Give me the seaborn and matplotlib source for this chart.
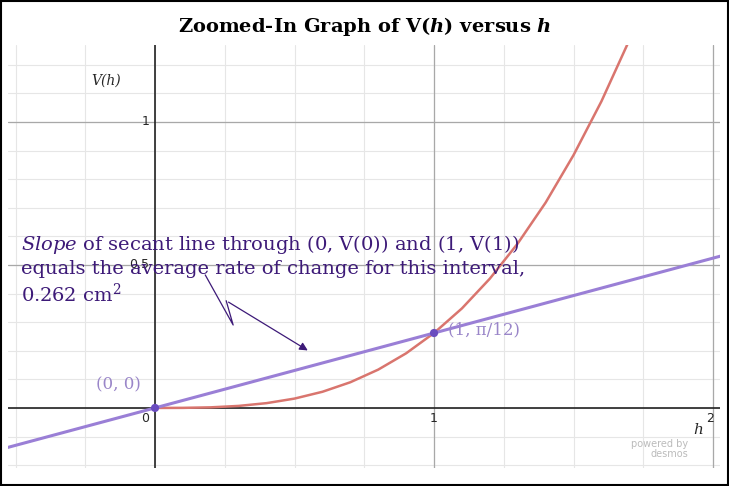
import numpy as np
import seaborn as sns
import matplotlib.pyplot as plt
from matplotlib.patches import Rectangle

# curve V(h) values
h_vals = [0, 0.1, 0.2, 0.3, 0.4, 0.5, 0.6, 0.7, 0.8, 0.9, 1.0, 1.1, 1.2, 1.3, 1.4, 1.5, 1.6, 1.7]
v_vals = [0, 0.0003, 0.0021, 0.0071, 0.0168, 0.0327, 0.0565, 0.0898, 0.134, 0.191,
          0.262, 0.348, 0.452, 0.575, 0.718, 0.884, 1.072, 1.286]
# secant line endpoints
sec_h = [-0.6, 2.1]
sec_v = [-0.157, 0.550]
pt_h = [0, 1]
pt_v = [0, 0.262]
pt_labels = ["(0, 0)", "(1, π/12)"]

sns.set_theme(style="white")
plt.rcParams['font.family'] = ['DejaVu Serif']
plt.rcParams['mathtext.fontset'] = 'dejavuserif'

fig = plt.figure(figsize=(7.29, 4.86), dpi=100)
ax = fig.add_axes([8/729, 18/486, 712/729, 423/486])
ax.set_xlim(-0.527, 2.025)
ax.set_ylim(-0.21, 1.269)

# grid
for x in np.arange(-0.5, 2.01, 0.25):
    ax.axvline(x, color='#e6e6e6', lw=0.8, zorder=0)
for y in np.arange(-0.2, 1.27, 0.1):
    ax.axhline(y, color='#e6e6e6', lw=0.8, zorder=0)
for x in [1, 2]:
    ax.axvline(x, color='#a8a8a8', lw=0.9, zorder=0)
for y in [0.5, 1]:
    ax.axhline(y, color='#a8a8a8', lw=0.9, zorder=0)
ax.axhline(0, color='#222222', lw=1.2, zorder=1)
ax.axvline(0, color='#222222', lw=1.2, zorder=1)
ax.set_xticks([]); ax.set_yticks([])
for s in ax.spines.values():
    s.set_visible(False)

ax.text(-0.02, -0.015, "0", ha='right', va='top', fontsize=9, family='DejaVu Sans')
ax.text(1, -0.015, "1", ha='center', va='top', fontsize=9, family='DejaVu Sans')
ax.text(1.99, -0.015, "2", ha='center', va='top', fontsize=9, family='DejaVu Sans')
ax.text(-0.02, 1.0, "1", ha='right', va='center', fontsize=9, family='DejaVu Sans')
ax.text(-0.02, 0.5, "0.5", ha='right', va='center', fontsize=9, family='DejaVu Sans')
ax.text(-0.23, 1.13, "V(h)", style='italic', fontsize=10)
ax.text(1.93, -0.09, "h", style='italic', fontsize=11)
ax.text(1.91, -0.11, "powered by\ndesmos", color='#bbbbbb', fontsize=7,
        ha='right', va='top', family='DejaVu Sans', linespacing=0.9)

sns.lineplot(x=h_vals, y=v_vals, ax=ax, color='#d9756e', lw=1.8, zorder=3)
sns.lineplot(x=sec_h, y=sec_v, ax=ax, color='#9a7fd6', lw=2.2, zorder=3)
sns.scatterplot(x=pt_h, y=pt_v, ax=ax, color='#6a4cbf', s=35, zorder=5, edgecolor='none')
ax.text(-0.21, 0.08, pt_labels[0], color='#9a86c9', fontsize=12, va='center')
ax.text(1.05, 0.273, pt_labels[1], color='#9a86c9', fontsize=12, va='center')

# annotation with zigzag arrow
ax.text(-0.48, 0.61,
        "$\\it{Slope}$ of secant line through (0, V(0)) and (1, V(1))\n"
        "equals the average rate of change for this interval,\n"
        "0.262 cm$^2$",
        color='#3d1a78', fontsize=14, va='top', linespacing=1.25, zorder=7)
zx = [0.18, 0.28, 0.255, 0.556]
zy = [0.465, 0.29, 0.375, 0.196]
ax.plot(zx[:3], zy[:3], color='#3d1a78', lw=0.9, zorder=6)
ax.annotate("", xy=(zx[3], zy[3]), xytext=(zx[2], zy[2]),
            arrowprops=dict(arrowstyle='-|>', color='#3d1a78', lw=0.9))

fig.text(0.5, 0.935, "Zoomed-In Graph of V($\\mathbfit{h}$) versus $\\mathbfit{h}$",
         ha='center', fontsize=14, fontweight='bold', color='black')
fig.patches.append(Rectangle((0.002, 0.002), 0.996, 0.996, transform=fig.transFigure,
                             fill=False, edgecolor='black', lw=1.5))
fig.savefig("out.png", dpi=100, facecolor='white')
